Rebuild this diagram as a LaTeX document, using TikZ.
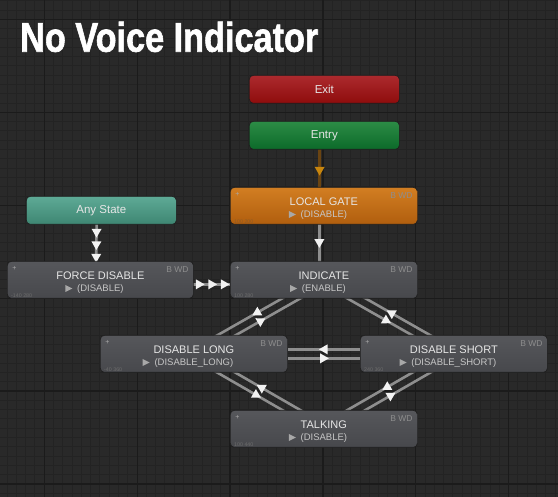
\documentclass[tikz,border=0pt]{standalone}
\usepackage{graphicx}
\usepackage{fontspec}
\setmainfont{Liberation Sans}
\newfontfamily\titlefont{Liberation Sans}[BoldFeatures={FakeBold=1.6}]
\usetikzlibrary{calc,decorations.markings}
\definecolor{bgc}{HTML}{292929}
\definecolor{minorc}{HTML}{232323}
\definecolor{majorc}{HTML}{1B1B1B}
\definecolor{greyT}{HTML}{56575B}
\definecolor{greyB}{HTML}{47484C}
\definecolor{orT}{HTML}{D27E22}
\definecolor{orB}{HTML}{B05E0E}
\definecolor{redT}{HTML}{AC2A2E}
\definecolor{redB}{HTML}{8E0C0C}
\definecolor{grT}{HTML}{2C8C46}
\definecolor{grB}{HTML}{0C6A2A}
\definecolor{tlT}{HTML}{5EAA96}
\definecolor{tlB}{HTML}{3E8672}
\definecolor{edgec}{HTML}{8E8E8E}
\definecolor{arrc}{HTML}{F2F2F2}
\definecolor{entl}{HTML}{6A4412}
\definecolor{enta}{HTML}{C8860E}
\definecolor{ttlc}{HTML}{E6E6E6}
\definecolor{subc}{HTML}{C6C6C6}
\definecolor{tric}{HTML}{A8A8A8}
\definecolor{bwdc}{HTML}{8E8E8E}
\definecolor{crdg}{HTML}{6E6E6E}
\definecolor{crdo}{HTML}{8E5A26}
\definecolor{outl}{HTML}{1E1E1E}

\pgfdeclarelayer{gridl}\pgfdeclarelayer{edgel}\pgfsetlayers{gridl,edgel,main}

\tikzset{
 statebox/.style={rectangle, rounded corners=4pt, draw=outl, line width=0.7pt, minimum height=37pt, inner sep=0pt},
 greyst/.style={top color=greyT, bottom color=greyB},
 orangest/.style={top color=orT, bottom color=orB},
 simplebox/.style={rectangle, rounded corners=4pt, draw=outl, line width=0.7pt, minimum width=150pt, minimum height=28pt, inner sep=0pt, text=ttlc, font=\fontsize{11.5}{13}\selectfont},
 ttl/.style={anchor=base, inner sep=0pt, text=ttlc, font=\fontsize{11}{13}\selectfont},
 subt/.style={anchor=base, inner sep=0pt, text=subc, font=\fontsize{9.5}{11}\selectfont},
 bwd/.style={anchor=base east, inner sep=0pt, text=bwdc, font=\fontsize{8.5}{10}\selectfont},
 pinicon/.style={inner sep=0pt, text=tric, font=\fontsize{7}{8}\selectfont},
 crd/.style={anchor=base west, inner sep=0pt, font=\fontsize{5.3}{6}\selectfont},
 trline/.style={draw=edgec, line width=2.6pt},
 arrone/.style={postaction={decorate,decoration={markings,mark=at position 0.5 with {\fill[#1] (5pt,0pt)--(-3.7pt,5pt)--(-3.7pt,-5pt)--cycle;}}}},
 arrone/.default=arrc,
 arrthree/.style={postaction={decorate,decoration={markings,mark=at position 0.5 with {%
   \fill[arrc] (-7.5pt,0pt)--(-16.2pt,5pt)--(-16.2pt,-5pt)--cycle;
   \fill[arrc] (5pt,0pt)--(-3.7pt,5pt)--(-3.7pt,-5pt)--cycle;
   \fill[arrc] (17.5pt,0pt)--(8.8pt,5pt)--(8.8pt,-5pt)--cycle;}}}},
}

\newcommand\mystate[9]{%
 \node[statebox,#5,minimum width=#4pt,anchor=north west] (#1) at (#2,#3) {};
 \node[ttl] (#1-t) at ([yshift=-19pt]#1.north) {#6};
 \node[subt] (#1-s) at ([yshift=-31pt]#1.north) {#7};
 \fill[tric] ([xshift=-11.6pt]#1-s.base west) -- ([xshift=-11.6pt,yshift=7pt]#1-s.base west) -- ([xshift=-4.6pt,yshift=3.5pt]#1-s.base west) -- cycle;
 \node[bwd] (#1-b) at ([xshift=-5pt,yshift=-11.7pt]#1.north east) {B WD};
 \node[pinicon] (#1-p) at ([xshift=7.5pt,yshift=-7.5pt]#1.north west) {+};
 \node[crd,text=#9] (#1-c) at ([xshift=4pt,yshift=1.3pt]#1.south west) {#8};
}
\newcommand\pairline[2]{%
 \draw[trline,arrone] ($(#1.center)!4.5pt!-90:(#2.center)$) -- ($(#2.center)!4.5pt!90:(#1.center)$);
 \draw[trline,arrone] ($(#2.center)!4.5pt!-90:(#1.center)$) -- ($(#1.center)!4.5pt!90:(#2.center)$);
}

\begin{document}
\begin{tikzpicture}[x=1pt,y=-1pt]
\useasboundingbox (0,0) rectangle (558,497);
\begin{pgfonlayer}{gridl}
\fill[bgc] (0,0) rectangle (558,497);
\foreach \i in {0,...,59} \draw[minorc,line width=1pt] (7.04+\i*9.29,0) -- (7.04+\i*9.29,497);
\foreach \i in {0,...,53} \draw[minorc,line width=1pt] (0,0.92+\i*9.29) -- (558,0.92+\i*9.29);
\foreach \i in {0,...,5} \draw[majorc,line width=1.2pt] (44.2+\i*92.9,0) -- (44.2+\i*92.9,497);
\foreach \i in {0,...,5} \draw[majorc,line width=1.2pt] (0,19.5+\i*92.9) -- (558,19.5+\i*92.9);
\end{pgfonlayer}

\node[anchor=base west,inner sep=0pt,text=white] (title) at (20,51.7) {\resizebox{298pt}{30pt}{\titlefont\bfseries No Voice Indicator}};

\node[simplebox,top color=redT,bottom color=redB,anchor=north west] (exit) at (249,75) {Exit};
\node[simplebox,top color=grT,bottom color=grB,anchor=north west] (entry) at (249,121) {Entry};
\node[simplebox,top color=tlT,bottom color=tlB,anchor=north west] (anyst) at (26,196) {Any State};

\mystate{lg}{230}{187}{187}{orangest}{LOCAL GATE}{(DISABLE)}{100 200}{crdo}
\mystate{fd}{7}{261}{186}{greyst}{FORCE DISABLE}{(DISABLE)}{-140 280}{crdg}
\mystate{ind}{230}{261}{187}{greyst}{INDICATE}{(ENABLE)}{100 280}{crdg}
\mystate{dl}{100}{335}{187}{greyst}{DISABLE LONG}{(DISABLE\_LONG)}{-40 360}{crdg}
\mystate{ds}{360}{335}{187}{greyst}{DISABLE SHORT}{(DISABLE\_SHORT)}{240 360}{crdg}
\mystate{tk}{230}{410}{187}{greyst}{TALKING}{(DISABLE)}{100 440}{crdg}

\begin{pgfonlayer}{edgel}
\draw[draw=entl,line width=3pt,arrone=enta] ($(entry.center)!4.5pt!-90:(lg.center)$) -- ($(lg.center)!4.5pt!90:(entry.center)$);
\draw[trline,arrone] ($(lg.center)!4.5pt!-90:(ind.center)$) -- ($(ind.center)!4.5pt!90:(lg.center)$);
\draw[trline,arrthree] ($(anyst.center)!4.5pt!-90:(fd.center)$) -- ($(fd.center)!4.5pt!90:(anyst.center)$);
\draw[trline,arrthree] ($(fd.center)!4.5pt!-90:(ind.center)$) -- ($(ind.center)!4.5pt!90:(fd.center)$);
\pairline{ind}{dl}
\pairline{ind}{ds}
\pairline{dl}{ds}
\pairline{dl}{tk}
\pairline{ds}{tk}
\end{pgfonlayer}
\end{tikzpicture}
\end{document}
